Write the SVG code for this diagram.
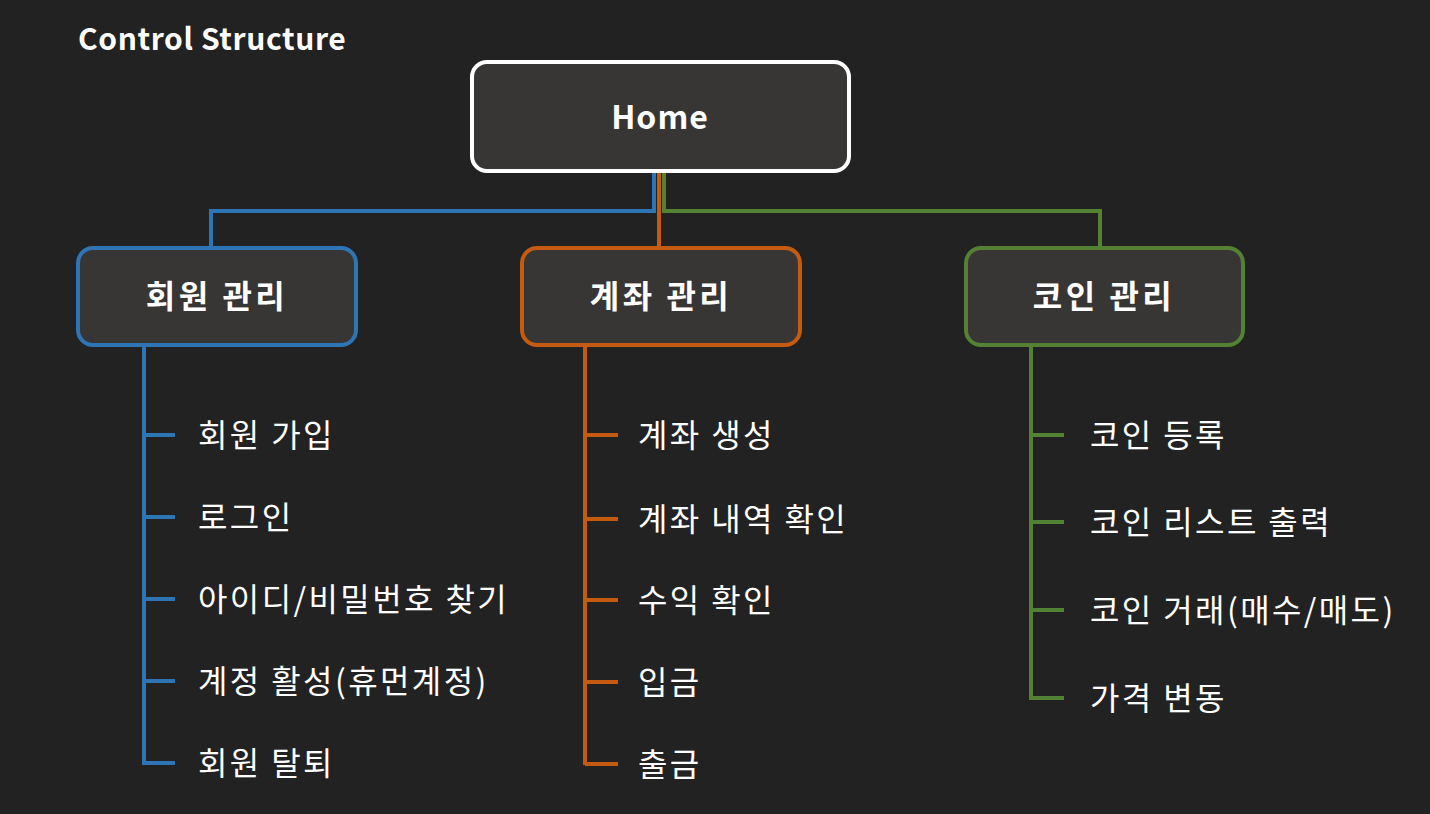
<svg xmlns="http://www.w3.org/2000/svg" width="1430" height="814" viewBox="0 0 1430 814">
<style>
.box{fill:#383634;stroke-width:4}
.t{font-family:"Noto Sans CJK KR","Noto Sans",sans-serif;fill:#fff;font-size:32px;letter-spacing:2.4px}
.b{font-weight:bold;letter-spacing:3.5px}
.ln{fill:none;stroke-width:4}
.bl{stroke:#2e75b6}.or{stroke:#c55a11}.gr{stroke:#548235}
</style>
<rect width="1430" height="814" fill="#222222"/>
<text class="t b" x="78" y="50" style="font-size:30px;letter-spacing:0.6px">Control Structure</text>
<g id="connectors">
<path class="ln bl" d="M654 172V211H211V248"/>
<path class="ln or" d="M659 172V248"/>
<path class="ln gr" d="M664 172V211H1100V248"/>
<path class="ln bl" d="M144 345V765M144 435H175M144 517H175M144 599H175M144 681H175M144 763H175"/>
<path class="ln or" d="M585 345V765M585 435H618M585 519H618M585 600H618M585 682H618M585 764H618"/>
<path class="ln gr" d="M1031 345V700M1031 435H1064M1031 522H1064M1031 610H1064M1031 698H1064"/>
</g>
<g id="home"><rect class="box" x="472" y="62" width="377" height="109" rx="15" stroke="#fff"/><text class="t b" x="660" y="129" text-anchor="middle" style="letter-spacing:1px">Home</text></g>
<g id="member"><rect class="box bl" x="78" y="248" width="278" height="97" rx="15"/><text class="t b" x="217" y="308" text-anchor="middle">회원 관리</text></g>
<g id="account"><rect class="box or" x="522" y="248" width="278" height="97" rx="15"/><text class="t b" x="661" y="308" text-anchor="middle">계좌 관리</text></g>
<g id="coin"><rect class="box gr" x="966" y="248" width="277" height="97" rx="15"/><text class="t b" x="1104" y="308" text-anchor="middle">코인 관리</text></g>
<g id="member-items">
<text class="t" x="198" y="447">회원 가입</text>
<text class="t" x="198" y="529">로그인</text>
<text class="t" x="198" y="611">아이디/비밀번호 찾기</text>
<text class="t" x="198" y="693">계정 활성(휴먼계정)</text>
<text class="t" x="198" y="775">회원 탈퇴</text>
</g>
<g id="account-items">
<text class="t" x="638" y="447">계좌 생성</text>
<text class="t" x="638" y="531">계좌 내역 확인</text>
<text class="t" x="638" y="612">수익 확인</text>
<text class="t" x="638" y="694">입금</text>
<text class="t" x="638" y="776">출금</text>
</g>
<g id="coin-items">
<text class="t" x="1090" y="447">코인 등록</text>
<text class="t" x="1090" y="534">코인 리스트 출력</text>
<text class="t" x="1090" y="622">코인 거래(매수/매도)</text>
<text class="t" x="1090" y="710">가격 변동</text>
</g>
</svg>
